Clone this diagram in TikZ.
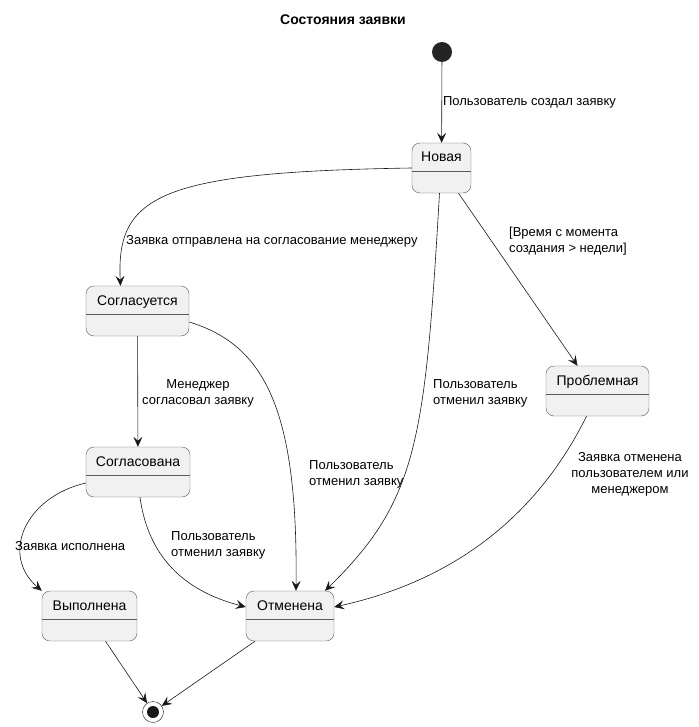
\documentclass[tikz,border=0pt]{standalone}
\usepackage{fontspec}
\setmainfont{Liberation Sans}
\usetikzlibrary{arrows.meta,positioning}

\definecolor{umlfill}{HTML}{F1F1F1}
\definecolor{umlline}{HTML}{181818}
\definecolor{umlborder}{HTML}{5A5A5A}

\tikzset{
  statebox/.style={draw=umlborder, fill=umlfill, rounded corners=8pt,
    minimum height=50, inner ysep=0, text height=19, text depth=31,
    font=\fontsize{14}{16}\selectfont,
    path picture={\draw[umlborder]
      ([yshift=-28]path picture bounding box.north west) --
      ([yshift=-28]path picture bounding box.north east);}},
  trans/.style={draw=umlline, line width=0.6pt,
    -{Stealth[length=10pt,width=9pt,inset=4pt]}},
  translabel/.style={font=\fontsize{13}{16}\selectfont, inner sep=0, align=left},
}

\begin{document}
\begin{tikzpicture}[x=1pt,y=-1pt]
\useasboundingbox (0,0) rectangle (698,727);

\node[font=\bfseries\fontsize{14}{16}\selectfont] (title) at (343,20) {Состояния заявки};

% start and end
\node[circle, fill=umlline!95, minimum size=20, inner sep=0] (start) at (442,52) {};
\node[circle, draw=umlline, fill=white, minimum size=21, inner sep=0] (finish) at (153,712) {};
\node[circle, fill=umlline, minimum size=12, inner sep=0] at (finish) {};

% states
\node[statebox, minimum width=59]  (nov)    at (441.5,168) {Новая};
\node[statebox, minimum width=103] (soglas) at (137.5,311) {Согласуется};
\node[statebox, minimum width=104] (soglasovana) at (138,472) {Согласована};
\node[statebox, minimum width=103] (probl)  at (597.5,391) {Проблемная};
\node[statebox, minimum width=95]  (vyp)    at (89.5,616) {Выполнена};
\node[statebox, minimum width=88]  (otm)    at (290,616) {Отменена};

% transitions
\draw[trans] (start) -- (nov)
  node[translabel, midway, right=1pt] {Пользователь создал заявку};

\draw[trans] (nov.west) .. controls (160,172) and (116,195) .. ([xshift=-17]soglas.north);
\node[translabel, anchor=west] (l1) at (126,241) {Заявка отправлена на согласование менеджеру};

\draw[trans] ([xshift=-2]nov.south) .. controls (425,440) and (418,500) .. ([xshift=35]otm.north);
\node[translabel, anchor=west] (l2) at (433,393) {Пользователь\\отменил заявку};

\draw[trans] ([xshift=17]nov.south) -- ([xshift=-20]probl.north);
\node[translabel, anchor=west] (l3) at (509,241) {[Время с момента\\создания > недели]};

\draw[trans] (soglas) -- (soglasovana);
\node[translabel, align=center] (l4) at (198,393) {Менеджер\\согласовал заявку};

\draw[trans] ([yshift=-11]soglas.east) .. controls (265,345) and (298,410) .. ([xshift=6]otm.north);
\node[translabel, anchor=west] (l5) at (309,474) {Пользователь\\отменил заявку};

\draw[trans] ([xshift=-11]probl.south) .. controls (550,490) and (480,575) .. ([yshift=9]otm.east);
\node[translabel, align=center] (l6) at (630,474) {Заявка отменена\\пользователем или\\менеджером};

\draw[trans] ([yshift=-11]soglasovana.west) .. controls (25,497) and (0,555) .. (vyp.north west);
\node[translabel, anchor=west] (l7) at (15,546) {Заявка исполнена};

\draw[trans] ([xshift=2]soglasovana.south) .. controls (150,570) and (200,595) .. ([yshift=9]otm.west);
\node[translabel, anchor=west] (l8) at (171,545) {Пользователь\\отменил заявку};

\draw[trans] ([xshift=16]vyp.south) -- (finish);
\draw[trans] ([xshift=-35]otm.south) -- (finish);
\end{tikzpicture}
\end{document}
